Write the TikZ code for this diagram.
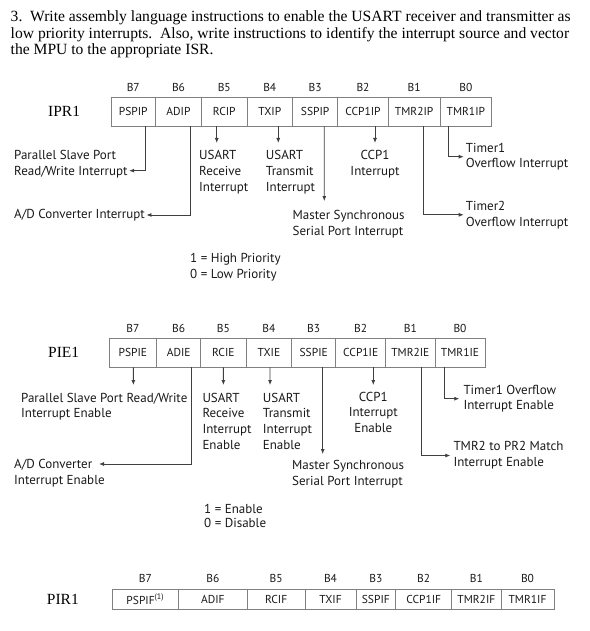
\documentclass[tikz,border=0pt]{standalone}
\usepackage{fontspec}
\setmainfont{PT Sans}
\newfontfamily\timesfont{Liberation Serif}
\usetikzlibrary{arrows.meta}

\tikzset{
  cell/.style={draw=black!50, line width=0.7pt, inner sep=0pt, text=black!90,
    font=\fontsize{11.5}{13}\selectfont},
  bitlbl/.style={inner sep=0pt, text=black!90, font=\fontsize{11.5}{13}\selectfont},
  reglbl/.style={inner sep=0pt, anchor=west, font=\timesfont\fontsize{15.5}{18}\selectfont},
  note/.style={inner sep=0pt, align=left, text=black!90, font=\fontsize{13}{15.8}\selectfont},
  wire/.style={draw=black!75, line width=0.8pt, -{Latex[length=5pt,width=4pt]}}
}

\begin{document}
\begin{tikzpicture}[x=1pt,y=-1pt]
  \useasboundingbox (0,0) rectangle (589,631);

  % task text
  \node[inner sep=0pt, anchor=north west, align=left,
    font=\timesfont\fontsize{15.6}{16.7}\selectfont] (task) at (10.5,10.5)
    {3.\ \ Write assembly language instructions to enable the USART receiver and transmitter as\\
     low priority interrupts.\ \ Also, write instructions to identify the interrupt source and vector\\
     the MPU to the appropriate ISR.};

  % IPR1 register
  \node[reglbl] (ipr) at (48,111.5) {IPR1};
  \foreach \l/\r/\t/\b in {111/155.5/PSPIP/7, 155.5/201.5/ADIP/6, 201.5/247/RCIP/5,
      247/292.5/TXIP/4, 292.5/337.7/SSPIP/3, 337.7/388.3/CCP1IP/2,
      388.3/440/TMR2IP/1, 440/491.7/TMR1IP/0}{
    \pgfmathsetmacro\cw{\r-\l}
    \pgfmathsetmacro\cx{(\l+\r)/2}
    \node[cell, minimum width=\cw pt, minimum height=29pt] (ipr\b) at (\cx,111.5) {\t};
    \node[bitlbl] (iprb\b) at (\cx,87.3) {B\b};
  }

  % IPR1 bit meanings
  \node[note, anchor=north west] (pspi) at (14,150) {Parallel Slave Port\\Read/Write Interrupt};
  \node[note, anchor=west] (adci) at (14,215) {A/D Converter Interrupt};
  \node[note, anchor=north west] (rci) at (199,150) {USART\\Receive\\Interrupt};
  \node[note, anchor=north west] (txi) at (265.7,150) {USART\\Transmit\\Interrupt};
  \node[note, anchor=north west] (sspi) at (292.5,210) {Master Synchronous\\Serial Port Interrupt};
  \node[note, anchor=north, align=center] (ccpi) at (375,150) {CCP1\\Interrupt};
  \node[note, anchor=west] (tmr1i) at (465.7,156.7) {Timer1\\Overflow Interrupt};
  \node[note, anchor=west] (tmr2i) at (465.7,214.8) {Timer2\\Overflow Interrupt};
  \node[note, anchor=north west] (prio) at (190,253.3) {1 = High Priority\\0 = Low Priority};

  \draw[wire] ([xshift=12.5]ipr7.south) |- ([xshift=1.5,yshift=7.4]pspi.south east);
  \draw[wire] ([xshift=11.5]ipr6.south) |- ([xshift=1.5]adci.east);
  \draw[wire] ([xshift=-7.5]ipr5.south) -- ([xshift=17.75,yshift=7]rci.north west);
  \draw[wire] ([xshift=8.5]ipr4.south) -- ([xshift=12.55,yshift=7]txi.north west);
  \draw[wire] ([xshift=9.2]ipr3.south) -- ([xshift=31.8,yshift=9]sspi.north west);
  \draw[wire] ([xshift=12]ipr2.south) -- ([yshift=7]ccpi.north);
  \draw[wire] ([xshift=9.2]ipr1.south) |- ([xshift=-2]tmr2i.west);
  \draw[wire] ([xshift=-17.5]ipr0.south) |- ([xshift=-2]tmr1i.west);

  % PIE1 register
  \node[reglbl] (pie) at (48,352.5) {PIE1};
  \foreach \l/\r/\t/\b in {109/156.7/PSPIE/7, 156.7/200.7/ADIE/6, 200.7/246/RCIE/5,
      246/291.7/TXIE/4, 291.7/335.7/SSPIE/3, 335.7/385.7/CCP1IE/2,
      385.7/435/TMR2IE/1, 435/485/TMR1IE/0}{
    \pgfmathsetmacro\cw{\r-\l}
    \pgfmathsetmacro\cx{(\l+\r)/2}
    \node[cell, minimum width=\cw pt, minimum height=29pt] (pie\b) at (\cx,352.5) {\t};
    \node[bitlbl] (pieb\b) at (\cx,328.3) {B\b};
  }

  % PIE1 bit meanings
  \node[note, anchor=north west] (pspe) at (21,392.7) {Parallel Slave Port Read/Write\\Interrupt Enable};
  \node[note, anchor=north west] (adce) at (14,459) {A/D Converter\\Interrupt Enable};
  \node[note, anchor=north west] (rce) at (202.3,392.7) {USART\\Receive\\Interrupt\\Enable};
  \node[note, anchor=north west] (txe) at (262.7,392.7) {USART\\Transmit\\Interrupt\\Enable};
  \node[note, anchor=north west] (sspe) at (292,460) {Master Synchronous\\Serial Port Interrupt};
  \node[note, anchor=north, align=center] (ccpe) at (373.3,391.7) {CCP1\\Interrupt\\Enable};
  \node[note, anchor=west] (tmr1e) at (463.3,398.7) {Timer1 Overflow\\Interrupt Enable};
  \node[note, anchor=west] (tmr2e) at (453.3,455.5) {TMR2 to PR2 Match\\Interrupt Enable};
  \node[note, anchor=north west, font=\fontsize{13}{14.5}\selectfont] (enab) at (204,504) {1 = Enable\\0 = Disable};

  \draw[wire] ([xshift=0.5]pie7.south) -- ([xshift=112.35,yshift=7.7]pspe.north west);
  \draw[wire] ([xshift=13]pie6.south) |- ([xshift=85,yshift=-5]adce.north west);
  \draw[wire] (pie5.south) -- ([xshift=21.05,yshift=7.7]rce.north west);
  \draw[wire] ([xshift=1.2]pie4.south) -- ([xshift=7.35,yshift=7.7]txe.north west);
  \draw[wire] ([xshift=9]pie3.south) -- ([xshift=30.7,yshift=6]sspe.north west);
  \draw[wire] ([xshift=12.6]pie2.south) -- ([yshift=6.7]ccpe.north);
  \draw[wire] ([xshift=11.3]pie1.south) |- ([xshift=-3]tmr2e.west);
  \draw[wire] ([xshift=-16]pie0.south) |- ([xshift=-4]tmr1e.west);

  % PIR1 register
  \node[reglbl] (pir) at (46.7,599.2) {PIR1};
  \foreach \l/\r/\t/\b in {112.3/178.3/PSPIF\textsuperscript{(1)}/7, 178.3/247.3/ADIF/6,
      247.3/305/RCIF/5, 305/356/TXIF/4, 356/395.7/SSPIF/3, 395.7/451.7/CCP1IF/2,
      451.7/501/TMR2IF/1, 501/554/TMR1IF/0}{
    \pgfmathsetmacro\cw{\r-\l}
    \pgfmathsetmacro\cx{(\l+\r)/2}
    \node[cell, minimum width=\cw pt, minimum height=20.3pt] (pir\b) at (\cx,599.2) {\t};
    \node[bitlbl] (pirb\b) at (\cx,578.3) {B\b};
  }
\end{tikzpicture}
\end{document}
